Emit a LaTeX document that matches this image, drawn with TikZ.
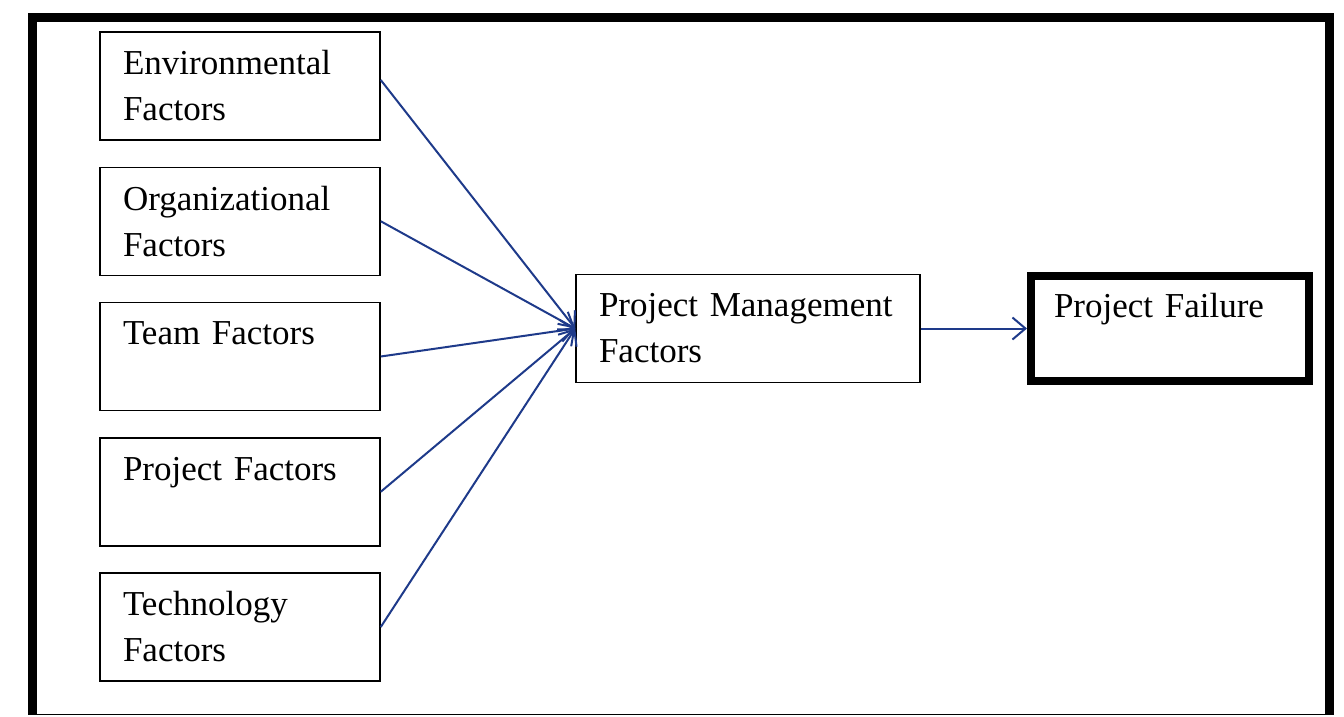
\documentclass[tikz,border=0pt]{standalone}
\usepackage{fontspec}
\setmainfont{Liberation Serif}
\usetikzlibrary{arrows.meta,positioning}
\definecolor{arrblue}{RGB}{30,58,138}

\begin{document}
\begin{tikzpicture}[x=1pt,y=-1pt,node distance=25.75pt,
  factor/.style={draw,line width=1.5pt,minimum width=280pt,minimum height=108pt,
                 text width=234pt,inner xsep=23pt,align=left,
                 font=\fontsize{35}{46}\selectfont},
  arr/.style={-{Straight Barb[length=13pt,width=22pt,line width=2pt]},line width=2pt,arrblue}]
  \useasboundingbox (0,0) rectangle (1344,716);
  % outer frame
  \draw[line width=9pt] (32.5,714) -- (32.5,17.5) -- (1329,17.5) -- (1329,714);
  \draw[line width=1.5pt] (28,714.5) -- (1333.5,714.5);
  % factor boxes
  \node[factor] (env) at (240,86) {Environmental\\Factors};
  \node[factor,below=of env]  (org)  {Organizational\\Factors};
  \node[factor,below=of org]  (team) {Team Factors\\\mbox{}};
  \node[factor,below=of team] (proj) {Project Factors\\\mbox{}};
  \node[factor,below=of proj] (tech) {Technology\\Factors};
  \node[factor,minimum width=344pt,text width=298pt] (pm) at (748,328.5) {Project Management\\Factors};
  \node[factor,line width=8pt,minimum width=278pt,minimum height=105pt,text width=232pt]
       (fail) at (1170,328.5) {Project Failure\\\mbox{}};
  \draw[arr] ([yshift=6pt]env.east) -- (pm.west); \draw[arr] (org.east) -- (pm.west);
  \draw[arr] (team.east) -- (pm.west); \draw[arr] (proj.east) -- (pm.west);
  \draw[arr] (tech.east) -- (pm.west);
  \draw[arr] (pm) -- (fail);
\end{tikzpicture}
\end{document}
